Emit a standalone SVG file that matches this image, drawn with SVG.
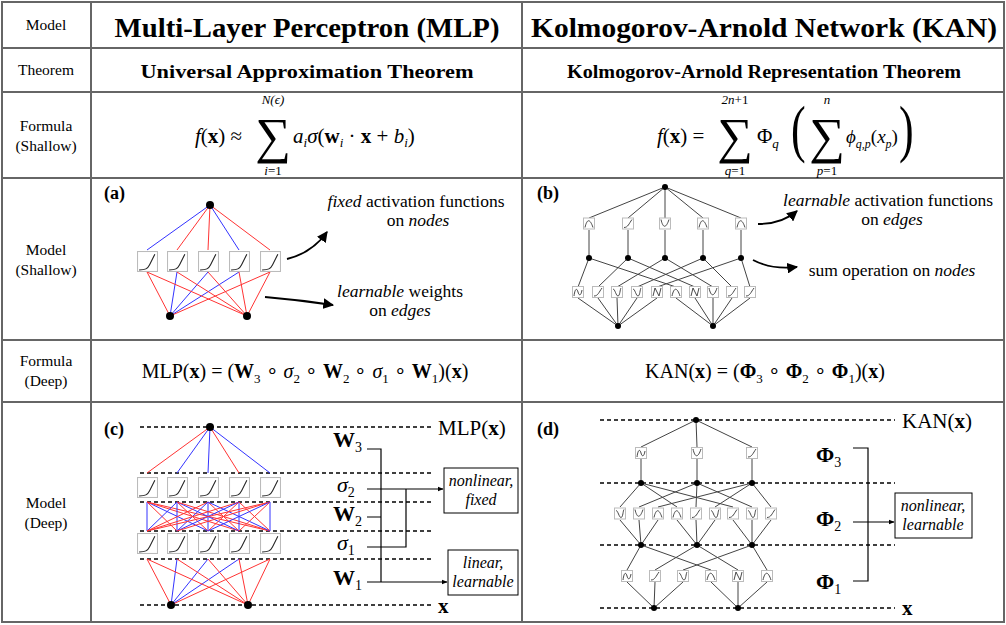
<svg xmlns="http://www.w3.org/2000/svg" xmlns:xlink="http://www.w3.org/1999/xlink" width="1006" height="625" viewBox="0 0 1006 625">
<style>
text{font-family:"Liberation Serif","Times New Roman",serif;fill:#000}
.h{font-size:15.5px;text-anchor:middle}
.grid{stroke:#666;stroke-width:2;fill:none}
.r{stroke:#f33;stroke-width:1}
.b{stroke:#33f;stroke-width:1}
.k{stroke:#444;stroke-width:1;fill:none}
.d{stroke:#000;stroke-width:1.5;stroke-dasharray:4 3}
.c{stroke:#000;stroke-width:1.2;fill:none}
.ar{stroke:#000;stroke-width:1.8;fill:none}
.lb{font-size:17.5px;text-anchor:middle}
.bx{fill:#fff;stroke:#000;stroke-width:1}
.vl{font-size:22px}
</style>
<defs>
<marker id="ah" viewBox="0 0 10 10" refX="9" refY="5" markerWidth="6" markerHeight="6" orient="auto"><path d="M0,0L10,5L0,10z" fill="#000"/></marker>
<marker id="as" viewBox="0 0 10 10" refX="9" refY="5" markerWidth="5" markerHeight="5" orient="auto"><path d="M0,1L10,5L0,9z" fill="#000"/></marker>
<symbol id="relu" viewBox="0 0 20 20"><rect x="0.5" y="0.5" width="19" height="19" fill="#fff" stroke="#bbb"/><path d="M2,18 C8,18 10,17 12,13 L17,3" fill="none" stroke="#222" stroke-width="1"/></symbol>
<symbol id="k1" viewBox="0 0 12 12"><rect x="0.5" y="0.5" width="11" height="11" fill="#fff" stroke="#bbb"/><path d="M2,10 C4,1 7,1 10,10" fill="none" stroke="#333" stroke-width="0.9"/></symbol>
<symbol id="k2" viewBox="0 0 12 12"><rect x="0.5" y="0.5" width="11" height="11" fill="#fff" stroke="#bbb"/><path d="M2,2 C4,11 7,11 10,2" fill="none" stroke="#333" stroke-width="0.9"/></symbol>
<symbol id="k3" viewBox="0 0 12 12"><rect x="0.5" y="0.5" width="11" height="11" fill="#fff" stroke="#bbb"/><path d="M2,10 C6,10 7,6 10,2" fill="none" stroke="#333" stroke-width="0.9"/></symbol>
<symbol id="k4" viewBox="0 0 12 12"><rect x="0.5" y="0.5" width="11" height="11" fill="#fff" stroke="#bbb"/><path d="M2,10 L4,2 L8,10 L10,2" fill="none" stroke="#333" stroke-width="0.9"/></symbol>
<symbol id="k5" viewBox="0 0 12 12"><rect x="0.5" y="0.5" width="11" height="11" fill="#fff" stroke="#bbb"/><path d="M2,3 C4,3 5,10 7,10 C9,10 9,3 10,2" fill="none" stroke="#333" stroke-width="0.9"/></symbol>
<symbol id="k6" viewBox="0 0 12 12"><rect x="0.5" y="0.5" width="11" height="11" fill="#fff" stroke="#bbb"/><path d="M2,10 C3,2 5,2 6,6 C7,10 9,10 10,4" fill="none" stroke="#333" stroke-width="0.9"/></symbol>
</defs>

<g id="table">
<rect class="grid" x="2" y="2" width="1002" height="620"/>
<line class="grid" x1="91" y1="2" x2="91" y2="622"/>
<line class="grid" x1="522" y1="2" x2="522" y2="622"/>
<line class="grid" x1="2" y1="48" x2="1004" y2="48"/>
<line class="grid" x1="2" y1="92" x2="1004" y2="92"/>
<line class="grid" x1="2" y1="178" x2="1004" y2="178"/>
<line class="grid" x1="2" y1="340" x2="1004" y2="340"/>
<line class="grid" x1="2" y1="402" x2="1004" y2="402"/>
</g>

<g id="row-headers">
<text class="h" x="46" y="30">Model</text>
<text class="h" x="46" y="75">Theorem</text>
<text class="h" x="46" y="131">Formula</text><text class="h" x="46" y="151">(Shallow)</text>
<text class="h" x="46" y="255">Model</text><text class="h" x="46" y="275">(Shallow)</text>
<text class="h" x="46" y="366">Formula</text><text class="h" x="46" y="386">(Deep)</text>
<text class="h" x="46" y="508">Model</text><text class="h" x="46" y="528">(Deep)</text>
</g>

<g id="titles">
<text x="307" y="37" font-size="28" font-weight="bold" text-anchor="middle" textLength="385" lengthAdjust="spacingAndGlyphs">Multi-Layer Perceptron (MLP)</text>
<text x="764" y="37" font-size="28" font-weight="bold" text-anchor="middle" textLength="466" lengthAdjust="spacingAndGlyphs">Kolmogorov-Arnold Network (KAN)</text>
<text x="307" y="78" font-size="18" font-weight="bold" text-anchor="middle" textLength="333" lengthAdjust="spacingAndGlyphs">Universal Approximation Theorem</text>
<text x="764" y="78" font-size="18" font-weight="bold" text-anchor="middle" textLength="394" lengthAdjust="spacingAndGlyphs">Kolmogorov-Arnold Representation Theorem</text>
</g>

<g id="formula-mlp-shallow" font-size="21">
<text x="195" y="143"><tspan font-style="italic">f</tspan>(<tspan font-weight="bold">x</tspan>) ≈</text>
<text x="273" y="153" font-size="50" text-anchor="middle">∑</text>
<text x="273" y="104" font-size="13" text-anchor="middle" font-style="italic">N(ϵ)</text>
<text x="273" y="175" font-size="13" text-anchor="middle"><tspan font-style="italic">i</tspan>=1</text>
<text x="293" y="143"><tspan font-style="italic">a</tspan><tspan font-style="italic" font-size="13" dy="4">i</tspan><tspan font-style="italic" dy="-4">σ</tspan>(<tspan font-weight="bold">w</tspan><tspan font-style="italic" font-size="13" dy="4">i</tspan><tspan dy="-4"> · </tspan><tspan font-weight="bold">x</tspan> + <tspan font-style="italic">b</tspan><tspan font-style="italic" font-size="13" dy="4">i</tspan><tspan dy="-4">)</tspan></text>
</g>

<g id="formula-kan-shallow" font-size="21">
<text x="657" y="143"><tspan font-style="italic">f</tspan>(<tspan font-weight="bold">x</tspan>) =</text>
<text x="735" y="153" font-size="50" text-anchor="middle">∑</text>
<text x="735" y="104" font-size="13" text-anchor="middle"><tspan font-style="italic">2n</tspan>+1</text>
<text x="735" y="175" font-size="13" text-anchor="middle"><tspan font-style="italic">q</tspan>=1</text>
<text x="757" y="143">Φ<tspan font-style="italic" font-size="13" dy="5">q</tspan></text>
<text x="791" y="150" font-size="44" transform="translate(791 150) scale(1 1.45) translate(-791 -150)">(</text>
<text x="827" y="153" font-size="50" text-anchor="middle">∑</text>
<text x="827" y="104" font-size="13" text-anchor="middle" font-style="italic">n</text>
<text x="827" y="175" font-size="13" text-anchor="middle"><tspan font-style="italic">p</tspan>=1</text>
<text x="846" y="143" font-size="19"><tspan font-style="italic">ϕ</tspan><tspan font-style="italic" font-size="12" dy="5">q,p</tspan><tspan dy="-5">(</tspan><tspan font-style="italic">x</tspan><tspan font-style="italic" font-size="12" dy="5">p</tspan><tspan dy="-5">)</tspan></text>
<text x="899" y="150" font-size="44" transform="translate(899 150) scale(1 1.45) translate(-899 -150)">)</text>
</g>

<g id="formula-deep" font-size="20">
<text x="305" y="378" text-anchor="middle">MLP(<tspan font-weight="bold">x</tspan>) = (<tspan font-weight="bold">W</tspan><tspan font-size="13" dy="5">3</tspan><tspan dy="-5"> ∘ </tspan><tspan font-style="italic">σ</tspan><tspan font-size="13" dy="5">2</tspan><tspan dy="-5"> ∘ </tspan><tspan font-weight="bold">W</tspan><tspan font-size="13" dy="5">2</tspan><tspan dy="-5"> ∘ </tspan><tspan font-style="italic">σ</tspan><tspan font-size="13" dy="5">1</tspan><tspan dy="-5"> ∘ </tspan><tspan font-weight="bold">W</tspan><tspan font-size="13" dy="5">1</tspan><tspan dy="-5">)(</tspan><tspan font-weight="bold">x</tspan>)</text>
<text x="765" y="378" text-anchor="middle">KAN(<tspan font-weight="bold">x</tspan>) = (<tspan font-weight="bold">Φ</tspan><tspan font-size="13" dy="5">3</tspan><tspan dy="-5"> ∘ </tspan><tspan font-weight="bold">Φ</tspan><tspan font-size="13" dy="5">2</tspan><tspan dy="-5"> ∘ </tspan><tspan font-weight="bold">Φ</tspan><tspan font-size="13" dy="5">1</tspan><tspan dy="-5">)(</tspan><tspan font-weight="bold">x</tspan>)</text>
</g>

<!-- (a) -->
<g id="panel-a">
<text x="104" y="199" font-size="18" font-weight="bold">(a)</text>
<g id="a-connectors">
<line class="b" x1="210" y1="205" x2="147" y2="250"/><line class="r" x1="210" y1="205" x2="177" y2="250"/><line class="r" x1="210" y1="205" x2="208" y2="250"/><line class="b" x1="210" y1="205" x2="239" y2="250"/><line class="r" x1="210" y1="205" x2="270" y2="250"/>
<line class="r" x1="147" y1="272" x2="170" y2="316"/><line class="b" x1="177" y1="272" x2="170" y2="316"/><line class="b" x1="208" y1="272" x2="170" y2="316"/><line class="b" x1="239" y1="272" x2="170" y2="316"/><line class="r" x1="270" y1="272" x2="170" y2="316"/>
<line class="r" x1="147" y1="272" x2="247" y2="316"/><line class="r" x1="177" y1="272" x2="247" y2="316"/><line class="r" x1="208" y1="272" x2="247" y2="316"/><line class="r" x1="239" y1="272" x2="247" y2="316"/><line class="r" x1="270" y1="272" x2="247" y2="316"/>
</g>
<use href="#relu" x="137" y="251" width="21" height="21"/><use href="#relu" x="167" y="251" width="21" height="21"/><use href="#relu" x="198" y="251" width="21" height="21"/><use href="#relu" x="229" y="251" width="21" height="21"/><use href="#relu" x="260" y="251" width="21" height="21"/>
<circle cx="210" cy="205" r="4"/><circle cx="170" cy="316" r="4"/><circle cx="247" cy="316" r="4"/>
<path class="ar" d="M287,259 Q312,253 327,232" marker-end="url(#ah)"/>
<path class="ar" d="M265,297 Q300,300 333,305" marker-end="url(#ah)"/>
<text class="lb" x="416" y="207"><tspan font-style="italic">fixed</tspan> activation functions</text>
<text class="lb" x="418" y="226">on <tspan font-style="italic">nodes</tspan></text>
<text class="lb" x="400" y="297"><tspan font-style="italic">learnable</tspan> weights</text>
<text class="lb" x="400" y="316">on <tspan font-style="italic">edges</tspan></text>
</g>

<!-- (b) -->
<g id="panel-b">
<text x="537" y="199" font-size="18" font-weight="bold">(b)</text>
<g id="b-connectors" class="k">
<line x1="665" y1="187" x2="589" y2="218"/><line x1="665" y1="187" x2="628" y2="218"/><line x1="665" y1="187" x2="665" y2="218"/><line x1="665" y1="187" x2="703" y2="218"/><line x1="665" y1="187" x2="741" y2="218"/>
<line x1="589" y1="230" x2="589" y2="258"/><line x1="628" y1="230" x2="628" y2="258"/><line x1="665" y1="230" x2="665" y2="258"/><line x1="703" y1="230" x2="703" y2="258"/><line x1="741" y1="230" x2="741" y2="258"/>
<line x1="589" y1="258" x2="578" y2="287"/><line x1="589" y1="258" x2="676" y2="287"/>
<line x1="628" y1="258" x2="598" y2="287"/><line x1="628" y1="258" x2="695" y2="287"/>
<line x1="665" y1="258" x2="617" y2="287"/><line x1="665" y1="258" x2="713" y2="287"/>
<line x1="703" y1="258" x2="637" y2="287"/><line x1="703" y1="258" x2="732" y2="287"/>
<line x1="741" y1="258" x2="657" y2="287"/><line x1="741" y1="258" x2="750" y2="287"/>
<line x1="578" y1="298" x2="618" y2="326"/><line x1="598" y1="298" x2="618" y2="326"/><line x1="617" y1="298" x2="618" y2="326"/><line x1="637" y1="298" x2="618" y2="326"/><line x1="657" y1="298" x2="618" y2="326"/>
<line x1="676" y1="298" x2="713" y2="326"/><line x1="695" y1="298" x2="713" y2="326"/><line x1="713" y1="298" x2="713" y2="326"/><line x1="732" y1="298" x2="713" y2="326"/><line x1="750" y1="298" x2="713" y2="326"/>
</g>
<use href="#k1" x="583" y="217" width="12" height="13"/><use href="#k3" x="622" y="217" width="12" height="13"/><use href="#k2" x="659" y="217" width="12" height="13"/><use href="#k1" x="697" y="217" width="12" height="13"/><use href="#k1" x="735" y="217" width="12" height="13"/>
<use href="#k6" x="572" y="286" width="12" height="12"/><use href="#k3" x="592" y="286" width="12" height="12"/><use href="#k5" x="611" y="286" width="12" height="12"/><use href="#k5" x="631" y="286" width="12" height="12"/><use href="#k4" x="651" y="286" width="12" height="12"/><use href="#k1" x="670" y="286" width="12" height="12"/><use href="#k4" x="689" y="286" width="12" height="12"/><use href="#k2" x="707" y="286" width="12" height="12"/><use href="#k3" x="726" y="286" width="12" height="12"/><use href="#k3" x="744" y="286" width="12" height="12"/>
<circle cx="665" cy="187" r="3"/>
<circle cx="589" cy="258" r="3"/><circle cx="628" cy="258" r="3"/><circle cx="665" cy="258" r="3"/><circle cx="703" cy="258" r="3"/><circle cx="741" cy="258" r="3"/>
<circle cx="618" cy="326" r="3"/><circle cx="713" cy="326" r="3"/>
<path class="ar" d="M758,224 Q782,224 797,211" marker-end="url(#ah)"/>
<path class="ar" d="M753,260 Q772,270 797,267" marker-end="url(#ah)"/>
<text class="lb" x="888" y="206"><tspan font-style="italic">learnable</tspan> activation functions</text>
<text class="lb" x="892" y="225">on <tspan font-style="italic">edges</tspan></text>
<text class="lb" x="892" y="276">sum operation on <tspan font-style="italic">nodes</tspan></text>
</g>

<!-- (c) -->
<g id="panel-c">
<text x="104" y="435" font-size="18" font-weight="bold">(c)</text>
<line class="d" x1="140" y1="427" x2="433" y2="427"/>
<line class="d" x1="140" y1="473" x2="433" y2="473"/>
<line class="d" x1="140" y1="502" x2="433" y2="502"/>
<line class="d" x1="140" y1="531" x2="433" y2="531"/>
<line class="d" x1="140" y1="559" x2="433" y2="559"/>
<line class="d" x1="140" y1="605" x2="433" y2="605"/>
<g id="c-connectors">
<line class="r" x1="210" y1="427" x2="147" y2="473"/><line class="b" x1="210" y1="427" x2="177" y2="473"/><line class="b" x1="210" y1="427" x2="208" y2="473"/><line class="r" x1="210" y1="427" x2="239" y2="473"/><line class="b" x1="210" y1="427" x2="270" y2="473"/>
<line class="b" x1="147" y1="502" x2="147" y2="531"/><line class="r" x1="147" y1="502" x2="177" y2="531"/><line class="b" x1="147" y1="502" x2="208" y2="531"/><line class="r" x1="147" y1="502" x2="239" y2="531"/><line class="r" x1="147" y1="502" x2="270" y2="531"/>
<line class="b" x1="177" y1="502" x2="147" y2="531"/><line class="b" x1="177" y1="502" x2="177" y2="531"/><line class="r" x1="177" y1="502" x2="208" y2="531"/><line class="b" x1="177" y1="502" x2="239" y2="531"/><line class="r" x1="177" y1="502" x2="270" y2="531"/>
<line class="r" x1="208" y1="502" x2="147" y2="531"/><line class="b" x1="208" y1="502" x2="177" y2="531"/><line class="b" x1="208" y1="502" x2="208" y2="531"/><line class="r" x1="208" y1="502" x2="239" y2="531"/><line class="b" x1="208" y1="502" x2="270" y2="531"/>
<line class="r" x1="239" y1="502" x2="147" y2="531"/><line class="b" x1="239" y1="502" x2="177" y2="531"/><line class="r" x1="239" y1="502" x2="208" y2="531"/><line class="b" x1="239" y1="502" x2="239" y2="531"/><line class="r" x1="239" y1="502" x2="270" y2="531"/>
<line class="r" x1="270" y1="502" x2="147" y2="531"/><line class="r" x1="270" y1="502" x2="177" y2="531"/><line class="b" x1="270" y1="502" x2="208" y2="531"/><line class="r" x1="270" y1="502" x2="239" y2="531"/><line class="b" x1="270" y1="502" x2="270" y2="531"/>
<line class="r" x1="147" y1="559" x2="171" y2="605"/><line class="b" x1="177" y1="559" x2="171" y2="605"/><line class="b" x1="208" y1="559" x2="171" y2="605"/><line class="b" x1="239" y1="559" x2="171" y2="605"/><line class="r" x1="270" y1="559" x2="171" y2="605"/>
<line class="r" x1="147" y1="559" x2="248" y2="605"/><line class="r" x1="177" y1="559" x2="248" y2="605"/><line class="r" x1="208" y1="559" x2="248" y2="605"/><line class="r" x1="239" y1="559" x2="248" y2="605"/><line class="r" x1="270" y1="559" x2="248" y2="605"/>
</g>
<use href="#relu" x="137" y="477" width="21" height="21"/><use href="#relu" x="167" y="477" width="21" height="21"/><use href="#relu" x="198" y="477" width="21" height="21"/><use href="#relu" x="229" y="477" width="21" height="21"/><use href="#relu" x="260" y="477" width="21" height="21"/>
<use href="#relu" x="137" y="533" width="21" height="21"/><use href="#relu" x="167" y="533" width="21" height="21"/><use href="#relu" x="198" y="533" width="21" height="21"/><use href="#relu" x="229" y="533" width="21" height="21"/><use href="#relu" x="260" y="533" width="21" height="21"/>
<circle cx="210" cy="427" r="4"/><circle cx="171" cy="605" r="4"/><circle cx="248" cy="605" r="4"/>
<text x="438" y="435" font-size="21">MLP(<tspan font-weight="bold">x</tspan>)</text>
<text x="438" y="613" font-size="21" font-weight="bold">x</text>
<text x="333" y="447" class="vl"><tspan font-weight="bold">W</tspan><tspan font-size="14" dy="5">3</tspan></text>
<text x="337" y="492" class="vl"><tspan font-style="italic">σ</tspan><tspan font-size="14" dy="5">2</tspan></text>
<text x="333" y="521" class="vl"><tspan font-weight="bold">W</tspan><tspan font-size="14" dy="5">2</tspan></text>
<text x="337" y="550" class="vl"><tspan font-style="italic">σ</tspan><tspan font-size="14" dy="5">1</tspan></text>
<text x="333" y="585" class="vl"><tspan font-weight="bold">W</tspan><tspan font-size="14" dy="5">1</tspan></text>
<path class="c" d="M367,449 H381 V582 M367,517 H381"/>
<path class="c" d="M367,582 H447" marker-end="url(#as)"/>
<path class="c" d="M367,489 H443" marker-end="url(#as)"/>
<path class="c" d="M367,547 H406 V489"/>
<rect class="bx" x="444" y="468" width="74" height="45"/>
<text x="481" y="486" font-size="16" font-style="italic" text-anchor="middle">nonlinear,</text>
<text x="481" y="505" font-size="16" font-style="italic" text-anchor="middle">fixed</text>
<rect class="bx" x="448" y="550" width="70" height="45"/>
<text x="483" y="568" font-size="16" font-style="italic" text-anchor="middle">linear,</text>
<text x="483" y="587" font-size="16" font-style="italic" text-anchor="middle">learnable</text>
</g>

<!-- (d) -->
<g id="panel-d">
<text x="537" y="435" font-size="18" font-weight="bold">(d)</text>
<line class="d" x1="600" y1="420" x2="895" y2="420"/>
<line class="d" x1="600" y1="483" x2="895" y2="483"/>
<line class="d" x1="600" y1="545" x2="895" y2="545"/>
<line class="d" x1="600" y1="608" x2="895" y2="608"/>
<g id="d-connectors" class="k">
<line x1="696" y1="420" x2="641" y2="447"/><line x1="696" y1="420" x2="697" y2="447"/><line x1="696" y1="420" x2="752" y2="447"/>
<line x1="641" y1="459" x2="641" y2="483"/><line x1="697" y1="459" x2="697" y2="483"/><line x1="752" y1="459" x2="752" y2="483"/>
<line x1="641" y1="483" x2="620" y2="507"/><line x1="641" y1="483" x2="677" y2="507"/><line x1="641" y1="483" x2="733" y2="507"/>
<line x1="697" y1="483" x2="639" y2="507"/><line x1="697" y1="483" x2="696" y2="507"/><line x1="697" y1="483" x2="752" y2="507"/>
<line x1="752" y1="483" x2="658" y2="507"/><line x1="752" y1="483" x2="715" y2="507"/><line x1="752" y1="483" x2="771" y2="507"/>
<line x1="620" y1="520" x2="641" y2="545"/><line x1="639" y1="520" x2="641" y2="545"/><line x1="658" y1="520" x2="641" y2="545"/>
<line x1="677" y1="520" x2="697" y2="545"/><line x1="696" y1="520" x2="697" y2="545"/><line x1="715" y1="520" x2="697" y2="545"/>
<line x1="733" y1="520" x2="752" y2="545"/><line x1="752" y1="520" x2="752" y2="545"/><line x1="771" y1="520" x2="752" y2="545"/>
<line x1="641" y1="545" x2="627" y2="570"/><line x1="641" y1="545" x2="711" y2="570"/>
<line x1="697" y1="545" x2="655" y2="570"/><line x1="697" y1="545" x2="738" y2="570"/>
<line x1="752" y1="545" x2="683" y2="570"/><line x1="752" y1="545" x2="767" y2="570"/>
<line x1="627" y1="582" x2="654" y2="608"/><line x1="655" y1="582" x2="654" y2="608"/><line x1="683" y1="582" x2="654" y2="608"/>
<line x1="711" y1="582" x2="738" y2="608"/><line x1="738" y1="582" x2="738" y2="608"/><line x1="767" y1="582" x2="738" y2="608"/>
</g>
<use href="#k6" x="635" y="447" width="12" height="12"/><use href="#k2" x="691" y="447" width="12" height="12"/><use href="#k3" x="746" y="447" width="12" height="12"/>
<use href="#k5" x="614" y="507" width="12" height="13"/><use href="#k2" x="633" y="507" width="12" height="13"/><use href="#k1" x="652" y="507" width="12" height="13"/><use href="#k1" x="671" y="507" width="12" height="13"/><use href="#k3" x="690" y="507" width="12" height="13"/><use href="#k5" x="709" y="507" width="12" height="13"/><use href="#k3" x="727" y="507" width="12" height="13"/><use href="#k5" x="746" y="507" width="12" height="13"/><use href="#k3" x="765" y="507" width="12" height="13"/>
<use href="#k6" x="621" y="570" width="12" height="12"/><use href="#k3" x="649" y="570" width="12" height="12"/><use href="#k5" x="677" y="570" width="12" height="12"/><use href="#k1" x="705" y="570" width="12" height="12"/><use href="#k4" x="732" y="570" width="12" height="12"/><use href="#k1" x="761" y="570" width="12" height="12"/>
<circle cx="696" cy="420" r="3"/>
<circle cx="641" cy="483" r="3"/><circle cx="697" cy="483" r="3"/><circle cx="752" cy="483" r="3"/>
<circle cx="641" cy="545" r="3"/><circle cx="697" cy="545" r="3"/><circle cx="752" cy="545" r="3"/>
<circle cx="654" cy="608" r="3"/><circle cx="738" cy="608" r="3"/>
<text x="902" y="428" font-size="21">KAN(<tspan font-weight="bold">x</tspan>)</text>
<text x="902" y="615" font-size="21" font-weight="bold">x</text>
<text x="816" y="462" class="vl"><tspan font-weight="bold">Φ</tspan><tspan font-size="14" dy="5">3</tspan></text>
<text x="816" y="526" class="vl"><tspan font-weight="bold">Φ</tspan><tspan font-size="14" dy="5">2</tspan></text>
<text x="816" y="589" class="vl"><tspan font-weight="bold">Φ</tspan><tspan font-size="14" dy="5">1</tspan></text>
<path class="c" d="M853,448 H868 V581 H853"/>
<path class="c" d="M853,522 H894" marker-end="url(#as)"/>
<rect class="bx" x="895" y="493" width="77" height="45"/>
<text x="933" y="511" font-size="16" font-style="italic" text-anchor="middle">nonlinear,</text>
<text x="933" y="530" font-size="16" font-style="italic" text-anchor="middle">learnable</text>
</g>
</svg>
